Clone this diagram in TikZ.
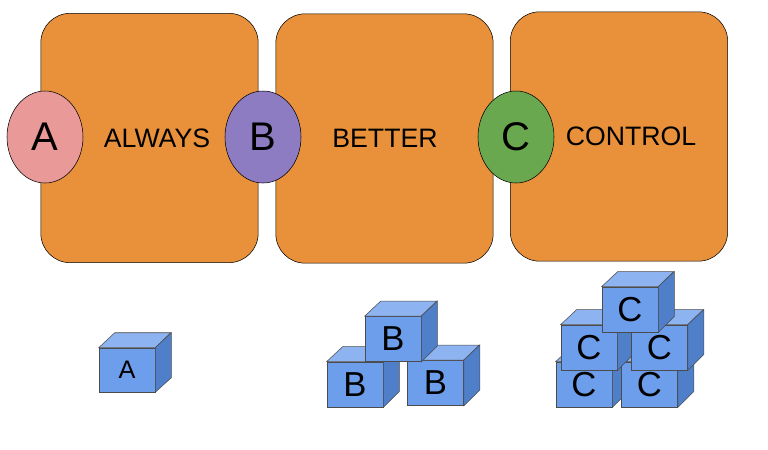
\documentclass[tikz,border=0pt]{standalone}
\usepackage{fontspec}
\setmainfont{Liberation Sans}
\usetikzlibrary{shapes.geometric}
\definecolor{boxorange}{HTML}{E8913A}
\definecolor{circa}{HTML}{EA9999}
\definecolor{circb}{HTML}{8E7CC3}
\definecolor{circc}{HTML}{6AA84F}
\definecolor{cubefront}{HTML}{6D9EEB}
\definecolor{cubetop}{HTML}{8DB3F0}
\definecolor{cubeside}{HTML}{4F7FC9}
\tikzstyle{wordbox} = [rectangle, rounded corners=22pt, minimum width=163pt, minimum height=187pt, draw=black, fill=boxorange]
\tikzstyle{letter} = [ellipse, minimum width=57pt, minimum height=69pt, draw=black, inner sep=0pt, font=\fontsize{30}{30}\selectfont]
\tikzstyle{word} = [font=\fontsize{20}{20}\selectfont]
\tikzstyle{front} = [rectangle, minimum width=42pt, minimum height=34pt, draw=black!70, fill=cubefront, inner sep=0pt, font=\fontsize{26}{26}\selectfont]
% one cube: name, centre of front face, label
\newcommand{\blockcube}[3]{
    \node (#1) [front] at (#2) {#3};
    \draw [draw=black!70, fill=cubetop] (#1.north west) -- ++(16,-15) -- ++(56,0) -- (#1.north east) -- cycle;
    \draw [draw=black!70, fill=cubeside] (#1.north east) -- ++(16,-15) -- ++(0,45) -- (#1.south east) -- cycle;
}

\begin{document}
\begin{tikzpicture}[x=0.75pt, y=-0.75pt]
    \useasboundingbox (0,0) rectangle (768,450);
    \node (always) [wordbox] at (149.5,138) {};
    \node (better) [wordbox] at (384.5,138.5) {};
    \node (control) [wordbox] at (619,136.5) {};
    \node (wa) [word] at (157,138) {ALWAYS};
    \node (wb) [word] at (385,138) {BETTER};
    \node (wc) [word] at (631,136) {CONTROL};
    \node (ca) [letter, fill=circa] at (45,137) {A};
    \node (cb) [letter, fill=circb] at (263,137) {B};
    \node (cc) [letter, fill=circc] at (516,137) {C};

    \begin{scope}[front/.append style={minimum height=33pt, font=\fontsize{19}{19}\selectfont}]
        \blockcube{qa}{127,370}{A}
    \end{scope}
    \blockcube{qb1}{355,384.5}{B}
    \blockcube{qb3}{435.5,383}{B}
    \blockcube{qb2}{393,339}{B}
    \blockcube{qc1}{584,384.5}{C}
    \blockcube{qc2}{649.5,384.5}{C}
    \blockcube{qc3}{589,347.5}{C}
    \blockcube{qc4}{659.5,347.5}{C}
    \blockcube{qc5}{630,309.5}{C}
\end{tikzpicture}
\end{document}
